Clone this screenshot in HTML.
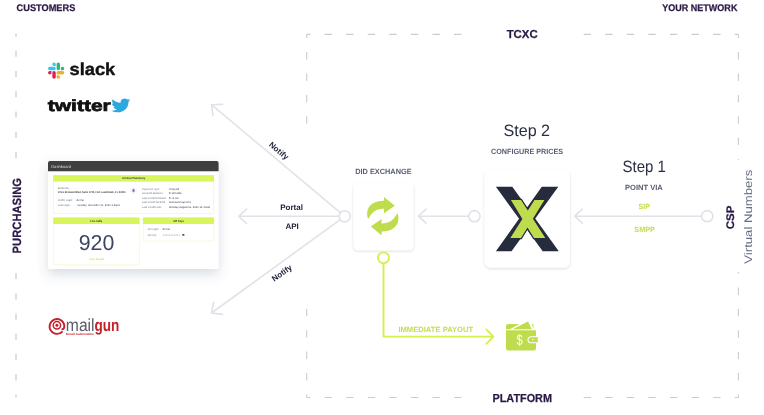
<!DOCTYPE html>
<html><head><meta charset="utf-8">
<style>
html,body{margin:0;padding:0;background:#fff;}
body{width:764px;height:415px;overflow:hidden;font-family:"Liberation Sans",sans-serif;}
svg{display:block;will-change:transform}
text{font-family:"Liberation Sans",sans-serif;text-rendering:geometricPrecision;}
.b{font-weight:bold}
.pur{fill:#2a1846;stroke:#2a1846;stroke-width:0.25px}
.sl{fill:#575d75}
.st{fill:#2b2f41}
.gr{fill:#c3dc4f}
.nv{fill:#20243c}
</style></head><body>
<svg width="764" height="415" viewBox="0 0 764 415">
<defs>
<filter id="sh" x="-30%" y="-30%" width="160%" height="160%"><feDropShadow dx="0" dy="1" stdDeviation="1.3" flood-color="#30323c" flood-opacity="0.17"/></filter>
<filter id="sh2" x="-20%" y="-20%" width="140%" height="150%"><feDropShadow dx="0" dy="5" stdDeviation="6" flood-color="#505a78" flood-opacity="0.22"/></filter>
</defs>

<!-- dashed guides -->
<g stroke="#c9ccd8" stroke-width="1.1" fill="none">
<line x1="16" y1="33.6" x2="16" y2="397.6" stroke-dasharray="6.1 14.12" stroke-dashoffset="3.05" stroke-width="2" stroke="#dddfe8"/>
<!-- top -->
<line x1="306.7" y1="34.4" x2="462" y2="34.4" stroke-dasharray="7.4 14.18" stroke-dashoffset="3.7"/>
<line x1="738.4" y1="34.4" x2="583" y2="34.4" stroke-dasharray="7.4 14.18" stroke-dashoffset="3.7"/>
<!-- bottom -->
<line x1="306.7" y1="397.5" x2="462" y2="397.5" stroke-dasharray="7.4 14.18" stroke-dashoffset="3.7"/>
<line x1="738.4" y1="397.5" x2="583" y2="397.5" stroke-dasharray="7.4 14.18" stroke-dashoffset="3.7"/>
<!-- right -->
<line x1="738.4" y1="34.4" x2="738.4" y2="397.5" stroke-dasharray="7.4 14" stroke-dashoffset="3.7"/>
<!-- left -->
<line x1="306.7" y1="34.4" x2="306.7" y2="124" stroke-dasharray="7.4 13.96" stroke-dashoffset="3.7"/>
<line x1="306.7" y1="397.5" x2="306.7" y2="307" stroke-dasharray="7.4 14" stroke-dashoffset="4.3"/>
</g>
<!-- mask right edge behind rotated labels -->
<rect x="720" y="160" width="40" height="112" fill="#fff"/>
<rect x="8" y="160" width="16" height="110" fill="#fff"/>

<!-- headings -->
<text x="16.6" y="10.5" class="b pur" font-size="9.6" textLength="58.7" lengthAdjust="spacingAndGlyphs">CUSTOMERS</text>
<text x="662.3" y="10.5" class="b pur" font-size="9.6" textLength="75.1" lengthAdjust="spacingAndGlyphs">YOUR NETWORK</text>
<text x="506.7" y="37.8" class="b pur" font-size="11.6" textLength="30.9" lengthAdjust="spacingAndGlyphs">TCXC</text>
<text x="492.5" y="401.9" class="b pur" font-size="11.6" textLength="59.5" lengthAdjust="spacingAndGlyphs">PLATFORM</text>
<text transform="translate(20.7,253.4) rotate(-90)" class="b pur" font-size="12" textLength="75.4" lengthAdjust="spacingAndGlyphs">PURCHASING</text>
<text transform="translate(733.8,229.3) rotate(-90)" class="b pur" font-size="11" textLength="23.7" lengthAdjust="spacingAndGlyphs">CSP</text>
<text transform="translate(752.3,263.7) rotate(-90)" fill="#666c82" font-size="11" textLength="94" lengthAdjust="spacingAndGlyphs">Virtual Numbers</text>

<!-- connector lines -->
<g stroke="#e1e2e8" stroke-width="1.6" fill="none" stroke-linecap="round" stroke-linejoin="round">
<path d="M344.7 216.3 L211.5 104.7 M222.6 104.3 L211.5 104.7 L213 115.6"/>
<path d="M344.7 216.3 L211.5 313 M222.6 314.4 L211.5 313 L213.6 302.5"/>
<path d="M339 216.3 L238.8 216.3 M246.5 209.1 L238.8 216.3 L246.5 223.5"/>
<circle cx="344.7" cy="216.3" r="5.6" fill="#fff"/>
<path d="M469 216.2 L418.4 216.2 M426 209.2 L418.4 216.2 L426 223.2"/>
<circle cx="474.4" cy="216.2" r="5.6" fill="#fff"/>
<path d="M701.5 216.2 L574.7 216.2 M582.3 209.2 L574.7 216.2 L582.3 223.2"/>
<circle cx="707.2" cy="216.2" r="5.6" fill="#fff"/>
</g>
<!-- green connector -->
<g stroke="#d4ef4e" stroke-width="1.9" fill="none" stroke-linecap="round" stroke-linejoin="round">
<path d="M383.5 263.5 L383.5 336.6 L493.2 336.6 M486.3 329.4 L493.4 336.6 L486.3 343.8"/>
</g>

<!-- labels -->
<text transform="translate(277.1,152.9) rotate(40)" text-anchor="middle" class="b nv" font-size="8" >Notify</text>
<text transform="translate(283.5,275.2) rotate(-36)" text-anchor="middle" class="b nv" font-size="8">Notify</text>
<text x="291.6" y="209.6" text-anchor="middle" class="b nv" font-size="8">Portal</text>
<text x="292.1" y="228.9" text-anchor="middle" class="b nv" font-size="8">API</text>

<text x="355.2" y="174" class="b sl" font-size="7.6" textLength="56.4" lengthAdjust="spacingAndGlyphs">DID EXCHANGE</text>
<text x="503.5" y="135.9" class="st" font-size="16.4" textLength="46.5" lengthAdjust="spacingAndGlyphs">Step 2</text>
<text x="491" y="153.9" class="b sl" font-size="7.6" textLength="72" lengthAdjust="spacingAndGlyphs">CONFIGURE PRICES</text>
<text x="622.5" y="172.2" class="st" font-size="16.4" textLength="43.3" lengthAdjust="spacingAndGlyphs">Step 1</text>
<text x="625" y="190.1" class="b sl" font-size="7.6" textLength="37.8" lengthAdjust="spacingAndGlyphs">POINT VIA</text>
<text x="638.5" y="208.6" class="b gr" font-size="7.6" textLength="11.6" lengthAdjust="spacingAndGlyphs">SIP</text>
<text x="634.3" y="231.6" class="b gr" font-size="7.6" textLength="20.6" lengthAdjust="spacingAndGlyphs">SMPP</text>
<text x="398.4" y="331.5" class="b gr" font-size="7.6" textLength="74.7" lengthAdjust="spacingAndGlyphs">IMMEDIATE PAYOUT</text>

<!-- DID exchange card -->
<rect x="353.4" y="182.5" width="60.2" height="67.7" rx="4.5" fill="#fff" filter="url(#sh)"/>
<circle cx="383.5" cy="257.8" r="5.5" fill="#fff" stroke="#d4ef4e" stroke-width="1.8"/>
<g id="sync" fill="#bfdc4e" transform="translate(382.8,216.1)">
<path d="M-14.7 2.8 C-16.5 -2 -16 -8 -11 -12 C-7.5 -14.8 -3.5 -15.4 1 -15.4 L1.25 -19.2 L12 -10.4 L1.25 -2.9 L1.25 -7.3 C-3 -7.6 -7.5 -6.3 -10.5 -3 C-12.3 -1 -13.2 1 -14.7 2.8 Z"/>
<path transform="rotate(180)" d="M-14.7 2.8 C-16.5 -2 -16 -8 -11 -12 C-7.5 -14.8 -3.5 -15.4 1 -15.4 L1.25 -19.2 L12 -10.4 L1.25 -2.9 L1.25 -7.3 C-3 -7.6 -7.5 -6.3 -10.5 -3 C-12.3 -1 -13.2 1 -14.7 2.8 Z"/>
</g>

<!-- X card -->
<rect x="484.6" y="169.9" width="85.4" height="97.9" rx="6" fill="#fff" filter="url(#sh)"/>
<g id="xlogo">
<path fill="#262c3d" d="M495.9 186.8 L512.3 186.8 L558.8 251.2 L542.7 251.2 Z M541.8 186.8 L558.3 186.8 L511.5 251.2 L495.9 251.2 Z"/>
<path fill="#262c3d" stroke="#262c3d" stroke-width="2.4" stroke-linejoin="miter" d="M510.9 200 L521 200 L527.8 210.6 L534.5 200 L544.4 200 L532.9 218.7 L545.3 238.1 L534 238.1 L527.5 227.4 L521 238.1 L510.3 238.1 L522.4 219 Z"/>
<path fill="#bfdc4e" d="M510.9 200 L521 200 L527.8 210.6 L534.5 200 L544.4 200 L532.9 218.7 L545.3 238.1 L534 238.1 L527.5 227.4 L521 238.1 L510.3 238.1 L522.4 219 Z"/>
</g>

<!-- wallet -->
<g id="wallet" fill="#bfdc4e">
<path d="M506 330.2 H536 V348.5 a2 2 0 0 1 -2 2 H508 a2 2 0 0 1 -2 -2 Z"/>
<path d="M506 329.2 V326.6 a2.6 2.6 0 0 1 2.6 -2.6 H519.6 L510 329.2 Z"/>
<path d="M512.6 329.2 L528 321.4 L531.8 329.2 Z"/>
<path d="M531.9 324.2 L533.3 323.8 L533.6 329.2 Z"/>
<path d="M540 336.3 H531 a3.5 3.5 0 0 0 0 7 H540 Z" fill="#fff"/>
<path d="M537.8 337.3 H531 a2.5 2.5 0 0 0 0 5 H537.8 Z"/>
<circle cx="532.8" cy="339.8" r="0.75" fill="#fff"/>
<text x="516.6" y="344.8" fill="#fff" font-size="15" textLength="6.2" lengthAdjust="spacingAndGlyphs">$</text>
</g>

<!-- logos -->
<g id="slack">
<g transform="translate(48.1,62.6) scale(0.1315)">
<path fill="#E01E5A" d="M25.8 77.6c0 7.1-5.8 12.9-12.9 12.9S0 84.7 0 77.6s5.8-12.9 12.9-12.9h12.9v12.9zm6.5 0c0-7.1 5.8-12.9 12.9-12.9s12.9 5.8 12.9 12.9v32.3c0 7.1-5.8 12.9-12.9 12.9s-12.9-5.8-12.9-12.9V77.6z"/>
<path fill="#36C5F0" d="M45.2 25.8c-7.1 0-12.9-5.8-12.9-12.9S38.1 0 45.2 0s12.9 5.8 12.9 12.9v12.9H45.2zm0 6.5c7.1 0 12.9 5.8 12.9 12.9s-5.8 12.9-12.9 12.9H12.9C5.8 58.1 0 52.3 0 45.2s5.8-12.9 12.9-12.9h32.3z"/>
<path fill="#2EB67D" d="M97 45.2c0-7.1 5.8-12.9 12.9-12.9s12.9 5.8 12.9 12.9-5.8 12.9-12.9 12.9H97V45.2zm-6.5 0c0 7.1-5.8 12.9-12.9 12.9s-12.9-5.8-12.9-12.9V12.9C64.7 5.8 70.5 0 77.6 0s12.9 5.8 12.9 12.9v32.3z"/>
<path fill="#ECB22E" d="M77.6 97c7.1 0 12.9 5.8 12.9 12.9s-5.8 12.9-12.9 12.9-12.9-5.8-12.9-12.9V97h12.9zm0-6.5c-7.1 0-12.9-5.8-12.9-12.9s5.8-12.9 12.9-12.9h32.3c7.1 0 12.9 5.8 12.9 12.9s-5.8 12.9-12.9 12.9H77.6z"/>
</g>
<text x="69.6" y="75.4" font-size="17.3" font-weight="bold" fill="#111" stroke="#111" stroke-width="0.4" textLength="45.6" lengthAdjust="spacingAndGlyphs">slack</text>
</g>
<g id="twitter">
<text x="47.8" y="110.6" font-size="16" font-weight="bold" fill="#111" stroke="#111" stroke-width="0.7" textLength="63" lengthAdjust="spacingAndGlyphs">twitter</text>
<path fill="#2aa9e0" transform="translate(111.4,96.9) scale(0.79,0.71)" d="M23.953 4.57a10 10 0 01-2.825.775 4.958 4.958 0 002.163-2.723c-.951.555-2.005.959-3.127 1.184a4.92 4.92 0 00-8.384 4.482C7.69 8.095 4.067 6.13 1.64 3.162a4.822 4.822 0 00-.666 2.475c0 1.71.87 3.213 2.188 4.096a4.904 4.904 0 01-2.228-.616v.06a4.923 4.923 0 003.946 4.827 4.996 4.996 0 01-2.212.085 4.936 4.936 0 004.604 3.417 9.867 9.867 0 01-6.102 2.105c-.39 0-.779-.023-1.17-.067a13.995 13.995 0 007.557 2.209c9.053 0 13.998-7.496 13.998-13.985 0-.21 0-.42-.015-.63A9.935 9.935 0 0024 4.59z"/>
</g>
<g id="mailgun">
<g fill="none" stroke="#c3222b" stroke-linecap="butt" transform="translate(0.7,-0.3)">
<circle cx="56.2" cy="325.6" r="1.5" fill="#c3222b" stroke="none"/>
<circle cx="56.2" cy="325.6" r="3.7" stroke-width="1.5"/>
<path stroke-width="1.9" d="M61.9 331.6 A7.4 7.4 0 1 1 63.6 325.6 C63.9 328.6 62.3 330 60.9 329.2"/>
</g>
<text x="65.8" y="330.5" font-size="17.6" fill="#5b5d66" textLength="28.8" lengthAdjust="spacingAndGlyphs">mail</text>
<text x="94.5" y="330.5" font-size="17" font-weight="bold" fill="#c3222b" textLength="24.8" lengthAdjust="spacingAndGlyphs">gun</text>
<text x="66" y="334.7" font-size="3" font-weight="bold" fill="#c3222b" textLength="27.7" lengthAdjust="spacingAndGlyphs">Email Automation</text>
</g>

<!-- dashboard -->
<g id="dash">
<rect x="48" y="161" width="170.6" height="108" rx="2" fill="#fff" filter="url(#sh2)"/>
<path d="M48 171.3 V163 a2 2 0 0 1 2 -2 H216.6 a2 2 0 0 1 2 2 V171.3 Z" fill="#3f3f3f"/>
<text x="51.2" y="167.9" font-size="4" fill="#dcdcdc" textLength="19.9" lengthAdjust="spacingAndGlyphs">Dashboard</text>
<rect x="53.4" y="175.4" width="160.4" height="38" fill="#fff" stroke="#e9f7a6" stroke-width="0.5"/>
<rect x="53.2" y="175.2" width="160.8" height="6.4" fill="#d8f55c"/>
<text x="133.6" y="179.4" font-size="3" fill="#2a3040" font-weight="bold" text-anchor="middle" textLength="23" lengthAdjust="spacingAndGlyphs">Account Summary</text>
<text x="57.8" y="189.4" font-size="2.7" fill="#4a5162" textLength="11.9" lengthAdjust="spacingAndGlyphs">Acme Inc,</text>
<text x="57.8" y="193.2" font-size="2.7" fill="#2f3646" font-weight="bold" textLength="67.8" lengthAdjust="spacingAndGlyphs">101 E Broward Blvd, Suite 1700, Fort Lauderdale, FL 33301</text>
<text x="57.8" y="201.1" font-size="2.7" fill="#6a7182" textLength="15.2" lengthAdjust="spacingAndGlyphs">Profile Login:</text>
<text x="76.6" y="201.1" font-size="2.7" fill="#2f3646" textLength="7.4" lengthAdjust="spacingAndGlyphs">demo</text>
<text x="57.8" y="205.8" font-size="2.7" fill="#6a7182" textLength="12.7" lengthAdjust="spacingAndGlyphs">Last Login:</text>
<text x="76.6" y="205.8" font-size="2.7" fill="#2f3646" textLength="43.7" lengthAdjust="spacingAndGlyphs">Tuesday, december 21, 2021 3:25pm</text>
<rect x="130.6" y="187.6" width="5.8" height="5.8" rx="1" fill="#fff" stroke="#eef0f4" stroke-width="0.4"/>
<g stroke="#6a3fd0" stroke-width="0.65" stroke-linecap="round"><path d="M133.5 189 V192 M132.2 189.75 L134.8 191.25 M134.8 189.75 L132.2 191.25"/></g>
<text x="142" y="189.6" font-size="2.7" fill="#6a7182" textLength="18" lengthAdjust="spacingAndGlyphs">Payment Type:</text>
<text x="169.1" y="189.6" font-size="2.7" fill="#2f3646" textLength="9.9" lengthAdjust="spacingAndGlyphs">Prepaid</text>
<text x="142" y="194.3" font-size="2.7" fill="#6a7182" textLength="21.5" lengthAdjust="spacingAndGlyphs">Account Balance:</text>
<text x="169.1" y="194.3" font-size="2.7" fill="#2f3646" textLength="12.5" lengthAdjust="spacingAndGlyphs">$ 19.5685</text>
<text x="142" y="198.8" font-size="2.7" fill="#6a7182" textLength="24.4" lengthAdjust="spacingAndGlyphs">Last Credit Amount:</text>
<text x="169.1" y="198.8" font-size="2.7" fill="#2f3646" textLength="9.4" lengthAdjust="spacingAndGlyphs">$ -2.00</text>
<text x="142" y="203.3" font-size="2.7" fill="#6a7182" textLength="23.7" lengthAdjust="spacingAndGlyphs">Last Credit Method:</text>
<text x="169.1" y="203.3" font-size="2.7" fill="#2f3646" textLength="21.6" lengthAdjust="spacingAndGlyphs">Manual Payment</text>
<text x="142" y="207.7" font-size="2.7" fill="#6a7182" textLength="20" lengthAdjust="spacingAndGlyphs">Last Credit Date:</text>
<text x="169.1" y="207.7" font-size="2.7" fill="#2f3646" textLength="40.9" lengthAdjust="spacingAndGlyphs">Monday August 05, 2021 11:42AM</text>
<rect x="53.4" y="217.7" width="85.9" height="47.2" rx="0.8" fill="#fff" stroke="#e9f7a6" stroke-width="0.5"/>
<rect x="53.2" y="217.5" width="86.3" height="6.5" fill="#d8f55c"/>
<text x="96.3" y="221.8" font-size="3" fill="#2a3040" font-weight="bold" text-anchor="middle" textLength="12" lengthAdjust="spacingAndGlyphs">Live Calls</text>
<text x="96.5" y="249.8" font-size="21.5" fill="#3c4563" text-anchor="middle" textLength="35.6" lengthAdjust="spacingAndGlyphs">920</text>
<text x="96.5" y="259.5" font-size="3" fill="#bfdc4e" text-anchor="middle" textLength="15" lengthAdjust="spacingAndGlyphs">View Details</text>
<rect x="143.2" y="217.7" width="70.6" height="23.4" rx="0.8" fill="#fff" stroke="#e9f7a6" stroke-width="0.5"/>
<rect x="143" y="217.5" width="71" height="6.5" fill="#d8f55c"/>
<text x="178.5" y="221.8" font-size="3" fill="#2a3040" font-weight="bold" text-anchor="middle" textLength="10.5" lengthAdjust="spacingAndGlyphs">API Keys</text>
<text x="147.7" y="230" font-size="2.7" fill="#6a7182" textLength="11.3" lengthAdjust="spacingAndGlyphs">API Login:</text>
<text x="162.6" y="230" font-size="2.7" fill="#2f3646" textLength="7.4" lengthAdjust="spacingAndGlyphs">demo</text>
<text x="147.7" y="236" font-size="2.7" fill="#6a7182" textLength="9.3" lengthAdjust="spacingAndGlyphs">API Key:</text>
<text x="162.6" y="236" font-size="2.7" fill="#8a90a0" textLength="17.4" lengthAdjust="spacingAndGlyphs">•••••••••••</text>
<ellipse cx="183.3" cy="234.9" rx="1.3" ry="0.8" fill="#3c4563"/>
</g>
</svg>
</body></html>
